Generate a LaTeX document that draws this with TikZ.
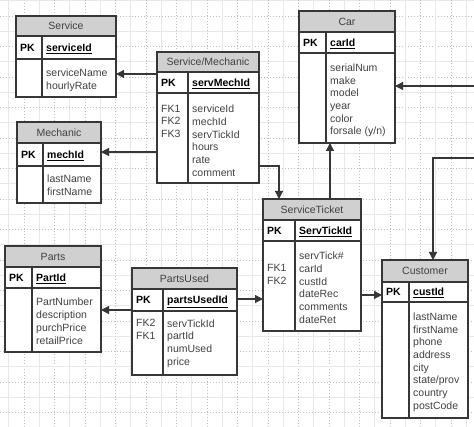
\documentclass[tikz,border=0pt]{standalone}
\usepackage{fontspec}
\setmainfont{Liberation Sans}
\usetikzlibrary{arrows.meta}
\definecolor{hdrgray}{RGB}{208,208,208}
\definecolor{linecol}{RGB}{55,55,55}
\definecolor{txtcol}{RGB}{65,65,65}
\definecolor{gridsolid}{RGB}{232,232,232}
\definecolor{griddot}{RGB}{190,190,190}
\tikzset{
  tblbox/.style={draw=linecol, line width=1.3pt, inner sep=0pt, outer sep=0pt},
  tblline/.style={draw=linecol, line width=1.2pt},
  hdrtext/.style={font=\fontsize{10.5}{12.7}\selectfont, text=txtcol, inner sep=0pt, anchor=base},
  pktext/.style={font=\fontsize{10.5}{12.7}\selectfont\bfseries, text=black, inner sep=0pt, anchor=base west},
  attr/.style={font=\fontsize{10.5}{12.7}\selectfont, text=txtcol, align=left, inner sep=0pt, anchor=north west},
  conn/.style={draw=linecol, line width=1.2pt, -{Triangle[length=8pt,width=8pt]}},
  gsolid/.style={draw=gridsolid, line width=0.6pt},
  gdot/.style={draw=griddot, line width=0.7pt, dash pattern=on 1pt off 2pt}
}
% #1 name, #2 x1, #3 x2, #4 ytop, #5 yheader, #6 ypk, #7 ybottom, #8 xdivider, #9 title
\newcommand{\erTable}[9]{%
  \fill[white] (#2,#4) rectangle (#3,#7);
  \fill[hdrgray] (#2,#4) rectangle (#3,#5);
  \node[tblbox, anchor=north west, minimum width={(#3-#2)*1pt}, minimum height={(#7-#4)*1pt}] (#1) at (#2,#4) {};
  \draw[tblline] (#2,#5) -- (#3,#5);
  \draw[tblline] (#2,#6) -- (#3,#6);
  \draw[tblline] (#8,#5) -- (#8,#7);
  \node[hdrtext] (#1-title) at ({(#2+#3)/2},{(#4+#5)/2+3.8}) {#9};
  \coordinate (#1-pk) at ({#2+4},{(#5+#6)/2+3.8});
  \coordinate (#1-key) at ({#8+4},{(#5+#6)/2+3.8});
}
\newcommand{\erKey}[2]{%
  \node[pktext] (#1-pkl) at (#1-pk) {PK};
  \node[pktext] (#1-keyl) at (#1-key) {\underline{#2}};
}
\begin{document}
\begin{tikzpicture}[x=1pt, y=-1pt]
\useasboundingbox (0,0) rectangle (474,427);
\fill[white] (0,0) rectangle (474,427);
% grid
\foreach \k in {0,...,15} {
  \draw[gsolid] ({8.75+30.5*\k},0) -- ({8.75+30.5*\k},427);
  \draw[gdot] ({24+30.5*\k},0) -- ({24+30.5*\k},427);
  \draw[gsolid] (0,{0.75+30.5*\k}) -- (474,{0.75+30.5*\k});
  \draw[gdot] (0,{16+30.5*\k}) -- (474,{16+30.5*\k});
}
% tables
\erTable{service}{16}{116}{16}{36}{59}{97}{42}{Service}
\erKey{service}{serviceId}
\node[attr] (service-attrs) at (46,{72.7-4.15}) {serviceName\\hourlyRate};

\erTable{sm}{157}{259}{52}{72}{93}{183}{188}{Service/Mechanic}
\erKey{sm}{servMechId}
\node[attr] (sm-fks) at (161,{109-4.15}) {FK1\\FK2\\FK3};
\node[attr] (sm-attrs) at (192,{109-4.15}) {serviceId\\mechId\\servTickId\\hours\\rate\\comment};

\erTable{car}{299}{395}{11}{32}{53}{143}{326}{Car}
\erKey{car}{carId}
\node[attr] (car-attrs) at (330,{67.7-4.15}) {serialNum\\make\\model\\year\\color\\forsale (y/n)};

\erTable{mechanic}{17}{101}{122}{143}{166}{203}{43}{Mechanic}
\erKey{mechanic}{mechId}
\node[attr] (mechanic-attrs) at (47,{179.3-4.15}) {lastName\\firstName};

\erTable{parts}{5}{101}{246}{267}{288}{352}{32}{Parts}
\erKey{parts}{PartId}
\node[attr] (parts-attrs) at (36,{302.3-4.15}) {PartNumber\\description\\purchPrice\\retailPrice};

\erTable{pu}{132}{237}{268}{289}{311}{375}{163}{PartsUsed}
\erKey{pu}{partsUsedId}
\node[attr] (pu-fks) at (136,{323.5-4.15}) {FK2\\FK1};
\node[attr] (pu-attrs) at (167,{323.5-4.15}) {servTickId\\partId\\numUsed\\price};

\erTable{st}{263}{361}{199}{220}{241}{331}{295}{ServiceTicket}
\erKey{st}{ServTickId}
\node[attr] (st-fks) at (267,{256+12.7-4.15}) {FK1\\FK2};
\node[attr] (st-attrs) at (299,{256-4.15}) {servTick\#\\carId\\custId\\dateRec\\comments\\dateRet};

\erTable{customer}{382}{468}{260}{282}{302}{418}{409}{Customer}
\erKey{customer}{custId}
\node[attr] (customer-attrs) at (413,{316.7-4.15}) {lastName\\firstName\\phone\\address\\city\\state/prov\\country\\postCode};

% connectors
\coordinate (carin) at (474,86);
\coordinate (custin) at (474,158);
\draw[conn] (sm.west |- 0,74) -- (service.east |- 0,74);
\draw[conn] (sm.west |- 0,152) -- (mechanic.east |- 0,152);
\draw[conn] (sm.east |- 0,166) -| (279,0 |- st.north);
\draw[conn] (st.north -| 330,0) -- (car.south -| 330,0);
\draw[conn] (carin) -- (car.east |- carin);
\draw[conn] (custin) -| (433,0 |- customer.north);
\draw[conn] (st.east |- 0,295) -- (customer.west |- 0,295);
\draw[conn] (pu.east |- 0,299) -- (st.west |- 0,299);
\draw[conn] (pu.west |- 0,310) -- (parts.east |- 0,310);
\end{tikzpicture}
\end{document}
